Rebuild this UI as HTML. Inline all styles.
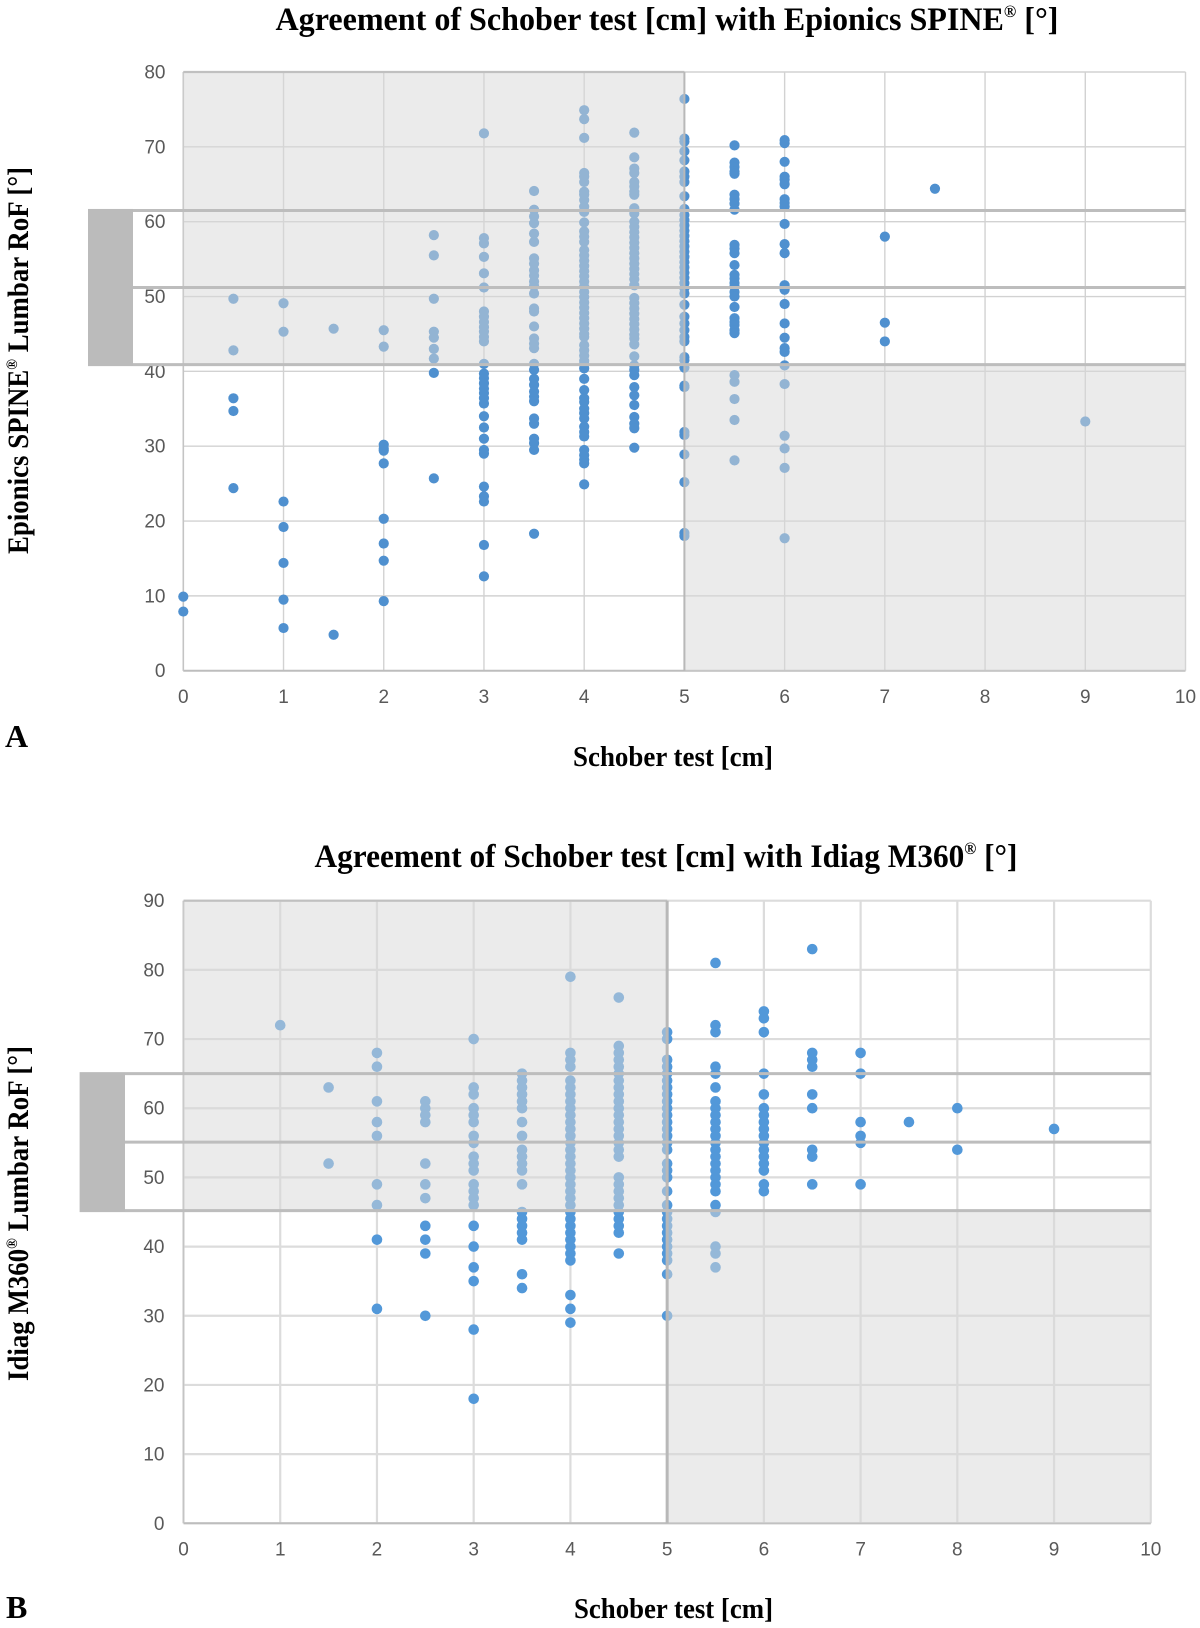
<!DOCTYPE html>
<html lang="en">
<head>
<meta charset="utf-8">
<title>Agreement of Schober test with Epionics SPINE and Idiag M360</title>
<style>
html,body{margin:0;padding:0;background:#fff;width:1200px;height:1628px;overflow:hidden}
svg{display:block}
.heading{font-family:"Liberation Serif",serif;font-weight:bold;fill:#000}
.tick{font-family:"Liberation Sans",sans-serif;font-size:19px;fill:#595959}
</style>
</head>
<body>
<svg id="figure" xmlns="http://www.w3.org/2000/svg" width="1200" height="1628" viewBox="0 0 1200 1628">
<rect width="1200" height="1628" fill="#fff"/>
<g id="chartA"></g>
<g id="chartB"></g>

<text class="heading" x="275.5" y="30" font-size="33" textLength="783" lengthAdjust="spacingAndGlyphs">Agreement of Schober test [cm] with Epionics SPINE<tspan font-size="17" dy="-13">®</tspan><tspan dy="13"> [°]</tspan></text>
<text class="heading" transform="translate(28,554) rotate(-90)" font-size="30" textLength="387" lengthAdjust="spacingAndGlyphs">Epionics SPINE<tspan font-size="16" dy="-11">®</tspan><tspan dy="11"> Lumbar RoF [°]</tspan></text>
<text class="heading" x="573" y="766" font-size="28" textLength="200" lengthAdjust="spacingAndGlyphs">Schober test [cm]</text>
<text class="heading" x="5" y="747" font-size="32">A</text>

<text class="heading" x="314.5" y="867" font-size="33" textLength="703" lengthAdjust="spacingAndGlyphs">Agreement of Schober test [cm] with Idiag M360<tspan font-size="17" dy="-13">®</tspan><tspan dy="13"> [°]</tspan></text>
<text class="heading" transform="translate(28,1381) rotate(-90)" font-size="30" textLength="335" lengthAdjust="spacingAndGlyphs">Idiag M360<tspan font-size="16" dy="-11">®</tspan><tspan dy="11"> Lumbar RoF [°]</tspan></text>
<text class="heading" x="574" y="1618" font-size="28" textLength="199" lengthAdjust="spacingAndGlyphs">Schober test [cm]</text>
<text class="heading" x="6" y="1618" font-size="32">B</text>
</svg>

<script>
// ---------- data ----------
const xTickLabels = [0,1,2,3,4,5,6,7,8,9,10];
const yTickLabelsA = [0,10,20,30,40,50,60,70,80];
const yTickLabelsB = [0,10,20,30,40,50,60,70,80,90];
const schoberCutoff = [5];
const thresholdsA = [61.5,51.2,40.9];
const thresholdsB = [65,55.1,45.2];

const schoberA = [0,0.5,1,1.5,2,2.5,3,3.5,4,4.5,5,5.5,6,7,7.5,9];
const rofA0   = [9.9,7.9];
const rofA05  = [49.7,42.8,36.4,34.7,24.4];
const rofA1   = [49.1,45.3,22.6,19.2,14.4,9.5,5.7];
const rofA15  = [45.7,4.8];
const rofA2   = [45.5,43.3,30.2,29.7,29.4,27.7,20.3,17,14.7,9.3];
const rofA25  = [58.2,55.5,49.7,45.3,44.5,43,41.7,39.8,25.7];
const rofA3   = [71.8,57.8,57.1,55.3,53.1,51.2,48,47.3,46.6,45.9,45.3,44.6,44,41,39.7,39.1,38.4,37.7,37.1,36.4,35.7,34,32.5,31,29.5,29,24.6,23.3,22.6,16.8,12.6];
const rofA35  = [64.1,61.6,60.7,59.8,58.4,57.3,55.1,54.4,53.5,52.8,52,51.4,50.4,48.4,48,46,44.4,43.7,43.1,41,40.2,39,38.2,37.3,36.6,36,33.7,33,31,30.4,29.5,18.3];
const rofA4   = [74.9,73.7,71.2,66.5,66,65.3,64,63.6,62.9,62,61.3,59.9,58.7,58,57.3,56.2,55.5,54.8,54.1,53.4,52.7,52,51.3,50.6,49.9,49.2,48.5,47.8,47.1,46.4,45.7,45,44.6,43.5,42.8,42.1,41.4,41,40.4,39,37.5,36.4,35.9,35,34.4,33.7,32.6,31.9,31.3,29.5,28.8,28.2,27.7,24.9];
const rofA45  = [71.9,68.6,67.1,66.5,65.3,64.7,64,63.6,61.8,61.1,60,59.3,58.6,57.9,57.2,56.5,55.8,55.1,54.4,53.7,53,52.3,51.5,49.8,49.1,48.4,47.7,47,46.3,45.6,44.9,44.4,43.6,42,40.8,40.2,39.5,37.9,36.8,35.5,33.9,33,32.4,29.8];
const rofA5   = [76.4,71.1,70.7,69.4,68.2,66.7,66,65.3,63.4,61.7,60.9,60.2,59.5,58.8,58.1,57.4,56.7,56,55.3,54.6,53.9,53.2,52.5,51.8,51.1,50.4,48.9,47.3,46.4,45.5,44.6,44,41.9,41.5,40.5,38.1,37.9,31.9,31.5,28.9,25.2,18.4,18];
const rofA55  = [70.2,67.9,67.3,66.7,66.4,63.6,63,62.4,61.6,56.9,56.4,55.8,54.2,52.9,52.4,51.8,51.3,50.6,50,48.6,47.1,46.6,46.2,45.5,45.1,39.5,38.6,36.3,33.5,28.1];
const rofA6   = [70.9,70.5,68,66,65.6,65,63,62.5,62,59.7,57,55.8,51.5,50.9,49,46.4,44.5,43.1,42.6,40.8,38.3,31.4,29.7,27.1,17.7];
const rofA7   = [58,46.5,44];
const rofA75  = [64.4];
const rofA9   = [33.3];
const rofA = [rofA0,rofA05,rofA1,rofA15,rofA2,rofA25,rofA3,rofA35,rofA4,rofA45,rofA5,rofA55,rofA6,rofA7,rofA75,rofA9];

const schoberB = [1,1.5,2,2.5,3,3.5,4,4.5,5,5.5,6,6.5,7,7.5,8,9];
const rofB1   = [72];
const rofB15  = [63,52];
const rofB2   = [68,66,61,58,56,49,46,41,31];
const rofB25  = [61,60,59,58,52,49,47,43,41,39,30];
const rofB3   = [70,63,62,60,59,58,56,55,53,52,51,49,48,47,46,43,40,37,35,28,18];
const rofB35  = [65,64,63,62,61,60,58,56,54,53,52,51,49,45,44,43,42,41,36,34];
const rofB4   = [79,68,67,66,64,63,62,61,60,59,58,57,56,55,54,53,52,51,50,49,48,47,46,45,44,43,42,41,40,39,38,33,31,29];
const rofB45  = [76,69,68,67,66,65,64,63,62,61,60,59,58,57,56,55,54,53,50,49,48,47,46,45,44,43,42,39];
const rofB5   = [71,70,67,66,65,64,63,62,61,60,59,58,57,56,55,54,52,51,50,48,46,45,44,43,42,41,40,39,38,36,30];
const rofB55  = [81,72,71,66,65,63,61,60,59,58,57,56,55,54,53,52,51,50,49,48,46,45,40,39,37];
const rofB6   = [74,73,71,65,62,60,59,58,57,56,55,54,53,52,51,49,48];
const rofB65  = [83,68,67,66,62,60,54,53,49];
const rofB7   = [68,65,58,56,55,49];
const rofB75  = [58];
const rofB8   = [60,54];
const rofB9   = [57];
const rofB = [rofB1,rofB15,rofB2,rofB25,rofB3,rofB35,rofB4,rofB45,rofB5,rofB55,rofB6,rofB65,rofB7,rofB75,rofB8,rofB9];

// ---------- drawing ----------
const SVGNS = 'http://www.w3.org/2000/svg';

function shape(parent, tag, attrs) {
  const el = document.createElementNS(SVGNS, tag);
  for (const k in attrs) el.setAttribute(k, attrs[k]);
  parent.appendChild(el);
  return el;
}

function drawChart(root, layout, yTicks, xs, ys, cuts) {
  const sx = v => layout.left + (v / 10) * (layout.right - layout.left);
  const sy = v => layout.bottom - (v / layout.yMax) * (layout.bottom - layout.top);

  xTickLabels.forEach(t => {
    const el = shape(root, 'line', {x1:sx(t), x2:sx(t), y1:layout.top, y2:layout.bottom, stroke:layout.grid, 'stroke-width':layout.gridW});
    
    
    const lb = shape(root, 'text', {x:sx(t), y:layout.xTickY, 'text-anchor':'middle', class:'tick'});
    lb.textContent = t;
    
    
  });

  yTicks.forEach(t => {
    const el = shape(root, 'line', {x1:layout.left, x2:layout.right, y1:sy(t), y2:sy(t), stroke:layout.grid, 'stroke-width':layout.gridW});
    
    
    const lb = shape(root, 'text', {x:layout.yTickX, y:sy(t) + 6.5, 'text-anchor':'end', class:'tick'});
    lb.textContent = t;
    
    
  });

  const axisX = shape(root, 'line', {x1:layout.left, x2:layout.right, y1:layout.bottom, y2:layout.bottom, stroke:'#bdbdbd', 'stroke-width':2});
  
  
  const axisY = shape(root, 'line', {x1:layout.left, x2:layout.left, y1:layout.top, y2:layout.bottom, stroke:'#c4c4c4', 'stroke-width':1.6});
  
  

  xs.forEach((x, i) => {
    ys[i].forEach(y => {
      const c = shape(root, 'circle', {cx:sx(x), cy:sy(y), r:layout.r, fill:layout.dot});
      
      
    });
  });

  const hi = cuts[0], lo = cuts[2], cx = schoberCutoff[0];
  const upper = shape(root, 'rect', {x:layout.left, y:layout.top, width:sx(cx) - layout.left, height:sy(lo) - layout.top, fill:'rgb(215,215,215)', 'fill-opacity':0.5});
  
  
  const lower = shape(root, 'rect', {x:sx(cx), y:sy(lo), width:layout.right - sx(cx), height:layout.bottom - sy(lo), fill:'rgb(215,215,215)', 'fill-opacity':0.5});
  
  

  const topEdge = shape(root, 'line', {x1:layout.left, x2:sx(cx), y1:layout.top, y2:layout.top, stroke:'#c0c0c0', 'stroke-width':2.2});
  
  
  const cutLine = shape(root, 'line', {x1:sx(cx), x2:sx(cx), y1:layout.top, y2:layout.bottom, stroke:'#b8b8b8', 'stroke-width':layout.cutW});
  
  

  const band = shape(root, 'rect', {x:layout.barL, y:sy(hi) - 1.5, width:layout.barR - layout.barL, height:sy(lo) - sy(hi) + 3, fill:'#bbbbbb'});
  
  

  cuts.forEach(v => {
    const el = shape(root, 'line', {x1:layout.barR, x2:layout.right, y1:sy(v), y2:sy(v), stroke:'#bdbdbd', 'stroke-width':3});
    
    
  });
}

const layoutA = {left:183.3, right:1185.5, top:72, bottom:670.7, yMax:80, xTickY:703, yTickX:165.5,
  grid:'#d2d2d2', gridW:1.4, r:5.1, dot:'#4f90cf', barL:88, barR:133, cutW:2};
const layoutB = {left:183.5, right:1150.8, top:900.7, bottom:1523.3, yMax:90, xTickY:1555.5, yTickX:164.5,
  grid:'#dcdcdc', gridW:2.2, r:5.3, dot:'#5298d9', barL:79.6, barR:125, cutW:3};

drawChart(document.getElementById('chartA'), layoutA, yTickLabelsA, schoberA, rofA, thresholdsA);
drawChart(document.getElementById('chartB'), layoutB, yTickLabelsB, schoberB, rofB, thresholdsB);
</script>
</body>
</html>
